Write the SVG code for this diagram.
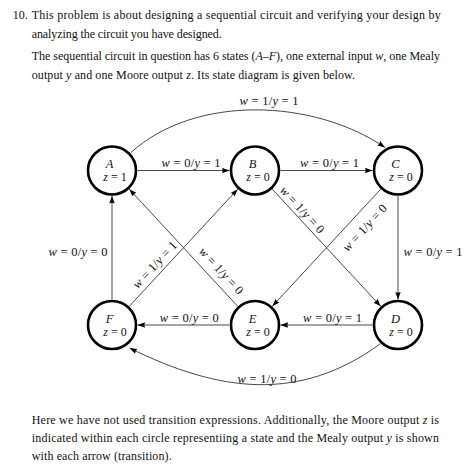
<svg xmlns="http://www.w3.org/2000/svg" width="474" height="467" viewBox="0 0 474 467">
<style>
text{font-family:"Liberation Serif","Times New Roman",serif;fill:#111}
.body{font-size:12px}
.lbl{font-size:12.5px;text-anchor:middle}
.nl{font-size:12.5px;font-style:italic;text-anchor:middle}
.nz{font-size:12px;text-anchor:middle}
.i{font-style:italic}
.st{fill:#fff;stroke:#000;stroke-width:2.6}
.e{fill:none;stroke:#333;stroke-width:0.9;marker-end:url(#arr)}
</style>
<defs>
<marker id="arr" markerUnits="userSpaceOnUse" markerWidth="9" markerHeight="7" refX="7.5" refY="3" orient="auto">
<path d="M0,0.3 L7.5,3 L0,5.7 Q1.3,3 0,0.3z" fill="#000"/>
</marker>
</defs>
<rect width="474" height="467" fill="#fff"/>

<g id="text-top" class="body">
<text x="12.7" y="19">10.</text>
<text x="31.7" y="19" textLength="409" lengthAdjust="spacing">This problem is about designing a sequential circuit and verifying your design by</text>
<text x="31.7" y="37.5" textLength="190" lengthAdjust="spacing">analyzing the circuit you have designed.</text>
<text x="31.7" y="60" textLength="408.3" lengthAdjust="spacing">The sequential circuit in question has 6 states (<tspan class="i">A</tspan>–<tspan class="i">F</tspan>), one external input <tspan class="i">w</tspan>, one Mealy</text>
<text x="31.7" y="78.5" textLength="323.3" lengthAdjust="spacing">output <tspan class="i">y</tspan> and one Moore output <tspan class="i">z</tspan>. Its state diagram is given below.</text>
</g>

<g id="connectors">
<path class="e" d="M137.5,170.5 L229.5,170.5"/>
<path class="e" d="M280.5,170.5 L372.5,170.5"/>
<path class="e" d="M131,152.5 C195,94.5 313,98.5 385,147.5"/>
<path class="e" d="M112,299.5 L112,196"/>
<path class="e" d="M398,196 L398,299.5"/>
<path class="e" d="M372.5,325 L280.5,325"/>
<path class="e" d="M229.5,325 L137.5,325"/>
<path class="e" d="M380,344 C299,403 218.6,392 129.5,348"/>
<path class="e" d="M129.3,306.3 L237.7,189.2"/>
<path class="e" d="M237.7,306.3 L129.3,189.2"/>
<path class="e" d="M272.3,189.2 L380.7,306.3"/>
<path class="e" d="M380.7,189.2 L272.3,306.3"/>
</g>

<g id="edge-labels" class="lbl">
<text x="191" y="167" textLength="59"><tspan class="i">w</tspan> = 0/<tspan class="i">y</tspan> = 1</text>
<text x="329.5" y="167" textLength="59"><tspan class="i">w</tspan> = 0/<tspan class="i">y</tspan> = 1</text>
<text x="269" y="105" textLength="59"><tspan class="i">w</tspan> = 1/<tspan class="i">y</tspan> = 1</text>
<text x="78" y="255.5" textLength="59"><tspan class="i">w</tspan> = 0/<tspan class="i">y</tspan> = 0</text>
<text x="433" y="255.5" textLength="59"><tspan class="i">w</tspan> = 0/<tspan class="i">y</tspan> = 1</text>
<text x="332.5" y="321.5" textLength="59"><tspan class="i">w</tspan> = 0/<tspan class="i">y</tspan> = 1</text>
<text x="189.3" y="321.5" textLength="59"><tspan class="i">w</tspan> = 0/<tspan class="i">y</tspan> = 0</text>
<text x="267" y="383" textLength="59"><tspan class="i">w</tspan> = 1/<tspan class="i">y</tspan> = 0</text>
<text transform="translate(155,265) rotate(-47.2)" x="0" y="3.8" textLength="59"><tspan class="i">w</tspan> = 1/<tspan class="i">y</tspan> = 1</text>
<text transform="translate(221,271) rotate(47.2)" x="0" y="3.8" textLength="59"><tspan class="i">w</tspan> = 1/<tspan class="i">y</tspan> = 0</text>
<text transform="translate(302,210) rotate(47.2)" x="0" y="3.8" textLength="59"><tspan class="i">w</tspan> = 1/<tspan class="i">y</tspan> = 0</text>
<text transform="translate(365,228) rotate(-47.2)" x="0" y="3.8" textLength="59"><tspan class="i">w</tspan> = 1/<tspan class="i">y</tspan> = 0</text>
</g>

<g id="node-A"><circle class="st" cx="112" cy="170.5" r="24"/><text class="nl" x="109.5" y="168">A</text><text class="nz" x="115" y="181.3" textLength="23.5"><tspan class="i">z</tspan> = 1</text></g>
<g id="node-B"><circle class="st" cx="255" cy="170.5" r="24"/><text class="nl" x="252.5" y="168">B</text><text class="nz" x="258" y="181.3" textLength="23.5"><tspan class="i">z</tspan> = 0</text></g>
<g id="node-C"><circle class="st" cx="398" cy="170.5" r="24"/><text class="nl" x="395.5" y="168">C</text><text class="nz" x="401" y="181.3" textLength="23.5"><tspan class="i">z</tspan> = 0</text></g>
<g id="node-D"><circle class="st" cx="398" cy="325" r="24"/><text class="nl" x="395.5" y="322.5">D</text><text class="nz" x="401" y="335.8" textLength="23.5"><tspan class="i">z</tspan> = 0</text></g>
<g id="node-E"><circle class="st" cx="255" cy="325" r="24"/><text class="nl" x="252.5" y="322.5">E</text><text class="nz" x="258" y="335.8" textLength="23.5"><tspan class="i">z</tspan> = 0</text></g>
<g id="node-F"><circle class="st" cx="112" cy="325" r="24"/><text class="nl" x="109.5" y="322.5">F</text><text class="nz" x="115" y="335.8" textLength="23.5"><tspan class="i">z</tspan> = 0</text></g>

<g id="text-bottom" class="body">
<text x="31.7" y="423.5" textLength="407.3" lengthAdjust="spacing">Here we have not used transition expressions.  Additionally, the Moore output <tspan class="i">z</tspan> is</text>
<text x="31.7" y="441.7" textLength="407.3" lengthAdjust="spacing">indicated within each circle representiing a state and the Mealy output <tspan class="i">y</tspan> is shown</text>
<text x="31.7" y="460" textLength="140" lengthAdjust="spacing">with each arrow (transition).</text>
</g>
</svg>
